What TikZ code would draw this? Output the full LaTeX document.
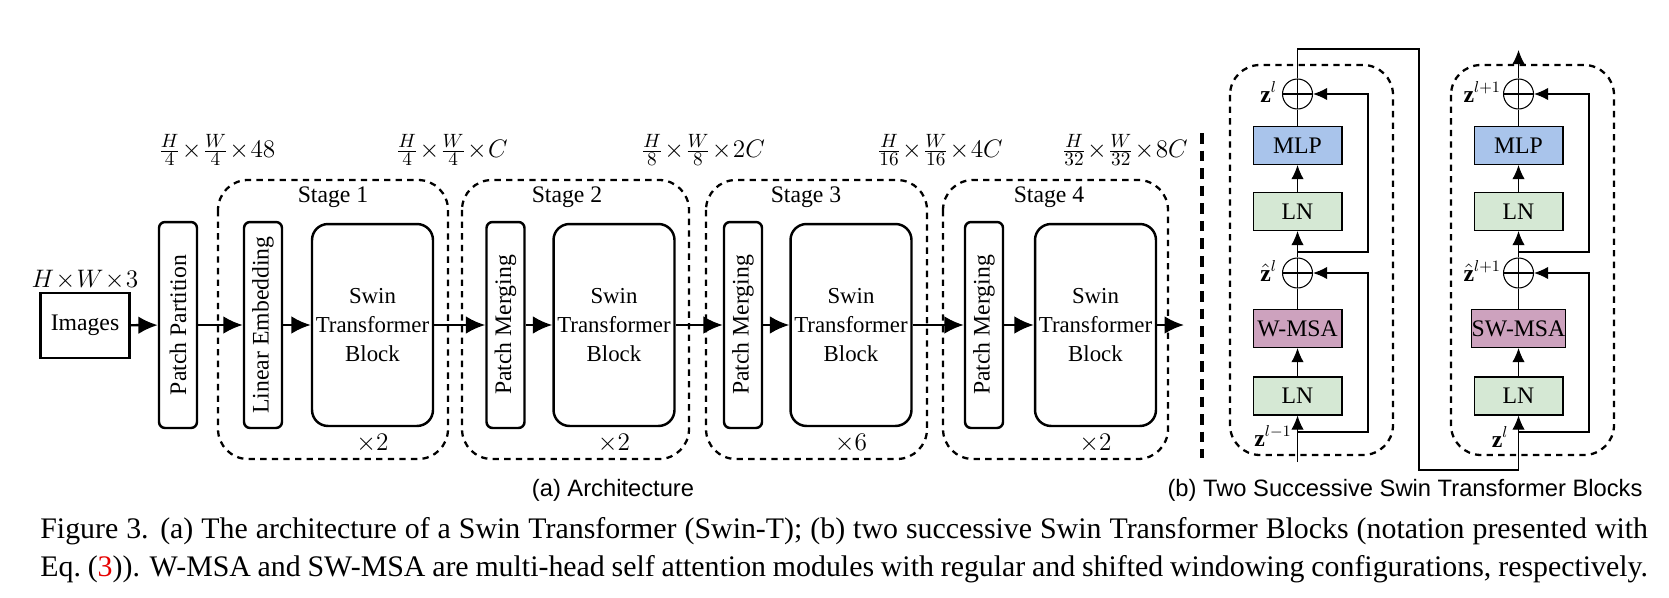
\documentclass[tikz,border=0pt]{standalone}
\usepackage{fontspec}
\setmainfont{Liberation Serif}
\newfontfamily\sansf{Liberation Sans}
\usetikzlibrary{arrows.meta,calc}
\definecolor{mlpblue}{RGB}{169,196,235}
\definecolor{lngreen}{RGB}{213,232,212}
\definecolor{msapink}{RGB}{205,162,190}
\definecolor{refred}{RGB}{230,0,0}
\begin{document}
\begin{tikzpicture}[x=0.02cm,y=-0.02cm,
  txt/.style={font=\fontsize{13.5}{16.5}\selectfont},
  thk/.style={line width=1.4pt},
  blk/.style={draw,thk,txt,align=center,inner sep=0pt},
  img/.style={blk,minimum width=1.78cm,minimum height=1.3cm},
  bar/.style={blk,rounded corners=0.12cm,minimum width=0.76cm,minimum height=4.12cm},
  swin/.style={blk,rounded corners=0.32cm,minimum width=2.42cm,minimum height=4.04cm,
    font=\fontsize{13}{16.5}\selectfont},
  stage/.style={draw,line width=1.3pt,dash pattern=on 3.6pt off 3pt,rounded corners=0.6cm},
  arr/.style={thk,-{Latex[length=11pt,width=10pt]}},
  sbox/.style={draw,line width=0.6pt,txt,minimum width=1.78cm,minimum height=0.76cm,inner sep=0pt},
  addop/.style={draw,line width=0.6pt,circle,minimum size=0.6cm,inner sep=0pt,
    path picture={\draw[line width=0.6pt] (path picture bounding box.north) -- (path picture bounding box.south)
      (path picture bounding box.west) -- (path picture bounding box.east);}},
  ln/.style={line width=0.6pt},
  sarr/.style={line width=0.6pt,-{Latex[length=8pt,width=7pt]}},
  lab/.style={txt,inner sep=1pt},
  dim/.style={font=\fontsize{15}{17}\selectfont,inner sep=1pt}]
\useasboundingbox (0,0) rectangle (1669,598);

% (a) architecture
\draw[stage] (218,180) rectangle (448,459);
\draw[stage] (462,180) rectangle (689,459);
\draw[stage] (706,180) rectangle (927,459);
\draw[stage] (943,180) rectangle (1168,459);
\node[lab] (st1) at (333,197) {Stage 1};
\node[lab] (st2) at (567,197) {Stage 2};
\node[lab] (st3) at (806,197) {Stage 3};
\node[lab] (st4) at (1049,197) {Stage 4};

\node[img] (im) at (85,325.5) {Images};
\node[dim,anchor=south] (imd) at (85,292) {$H\!\times\! W\!\times\! 3$};
\node[bar] (pp) at (178,325) {\rotatebox{90}{Patch Partition}};
\node[bar] (le) at (263,325) {\rotatebox{90}{Linear Embedding}};
\node[swin] (sw1) at (372.5,325) {Swin\\Transformer\\Block};
\node[bar] (pm2) at (505.5,325) {\rotatebox{90}{Patch Merging}};
\node[swin] (sw2) at (614,325) {Swin\\Transformer\\Block};
\node[bar] (pm3) at (743,325) {\rotatebox{90}{Patch Merging}};
\node[swin] (sw3) at (851,325) {Swin\\Transformer\\Block};
\node[bar] (pm4) at (984,325) {\rotatebox{90}{Patch Merging}};
\node[swin] (sw4) at (1095.5,325) {Swin\\Transformer\\Block};
\coordinate (out) at (1184,325);

\node[lab] (x1) at (372.5,443) {$\times 2$};
\node[lab] (x2) at (614,443) {$\times 2$};
\node[lab] (x3) at (851,443) {$\times 6$};
\node[lab] (x4) at (1095.5,443) {$\times 2$};

\node[dim] (d1) at (217,150) {$\frac{H}{4}\!\times\!\frac{W}{4}\!\times\!48$};
\node[dim] (d2) at (452,150) {$\frac{H}{4}\!\times\!\frac{W}{4}\!\times\! C$};
\node[dim] (d3) at (703,150) {$\frac{H}{8}\!\times\!\frac{W}{8}\!\times\! 2C$};
\node[dim] (d4) at (940,150) {$\frac{H}{16}\!\times\!\frac{W}{16}\!\times\! 4C$};
\node[dim] (d5) at (1125,150) {$\frac{H}{32}\!\times\!\frac{W}{32}\!\times\! 8C$};

\draw[arr] (im) -- (pp);
\draw[arr] (pp) -- (le);
\draw[arr] (le) -- (sw1);
\draw[arr] (sw1) -- (pm2);
\draw[arr] (pm2) -- (sw2);
\draw[arr] (sw2) -- (pm3);
\draw[arr] (pm3) -- (sw3);
\draw[arr] (sw3) -- (pm4);
\draw[arr] (pm4) -- (sw4);
\draw[arr] (sw4) -- (out);

% separator
\draw[line width=1.8pt,dash pattern=on 6pt off 4pt] (1202,133) -- (1202,458);

% (b) two blocks
\draw[stage] (1230,65) rectangle (1393,455);
\draw[stage] (1451,65) rectangle (1614,455);

\node[addop] (a2) at (1297.5,94) {};
\node[sbox,fill=mlpblue] (mlp) at (1297.5,145.5) {MLP};
\node[sbox,fill=lngreen] (ln2) at (1297.5,211.5) {LN};
\node[addop] (a1) at (1297.5,273) {};
\node[sbox,fill=msapink] (msa) at (1297.5,328.5) {W-MSA};
\node[sbox,fill=lngreen] (ln1) at (1297.5,396) {LN};
\node[lab,anchor=east] (zl) at (1279,92) {$\mathbf{z}^{l}$};
\node[lab,anchor=east] (zh) at (1279,271) {$\hat{\mathbf{z}}^{l}$};
\node[lab] (zin) at (1273,436) {$\mathbf{z}^{l-1}$};

\node[addop] (b2) at (1518.5,94) {};
\node[sbox,fill=mlpblue] (mlpb) at (1518.5,145.5) {MLP};
\node[sbox,fill=lngreen] (ln2b) at (1518.5,211.5) {LN};
\node[addop] (b1) at (1518.5,273) {};
\node[sbox,fill=msapink] (msab) at (1518.5,328.5) {SW-MSA};
\node[sbox,fill=lngreen] (ln1b) at (1518.5,396) {LN};
\node[lab,anchor=east] (zl2) at (1503,92) {$\mathbf{z}^{l+1}$};
\node[lab,anchor=east] (zh2) at (1503,271) {$\hat{\mathbf{z}}^{l+1}$};
\node[lab] (zinb) at (1500,437) {$\mathbf{z}^{l}$};

\coordinate (in1) at (1297.5,462);
\coordinate (s1) at (1297.5,432);
\coordinate (s2) at (1297.5,252);
\coordinate (t1) at (1297.5,49);
\coordinate (t2) at (1419,49);
\coordinate (t3) at (1419,470);
\coordinate (t4) at (1518.5,470);
\coordinate (u1) at (1518.5,432);
\coordinate (u2) at (1518.5,252);
\coordinate (outb) at (1518.5,50);

\draw[sarr] (in1) -- (ln1);
\draw[sarr] (ln1) -- (msa);
\draw[ln] (msa) -- (a1);
\draw[sarr] (a1) -- (ln2);
\draw[sarr] (ln2) -- (mlp);
\draw[ln] (mlp) -- (a2);
\draw[sarr] (s1) -- ++(70.5,0) |- (a1.east);
\draw[sarr] (s2) -- ++(70.5,0) |- (a2.east);
\draw[ln] (a2) -- (t1) -- (t2) -- (t3) -- (t4);
\draw[sarr] (t4) -- (ln1b);
\draw[sarr] (ln1b) -- (msab);
\draw[ln] (msab) -- (b1);
\draw[sarr] (b1) -- (ln2b);
\draw[sarr] (ln2b) -- (mlpb);
\draw[ln] (mlpb) -- (b2);
\draw[sarr] (u1) -- ++(70.5,0) |- (b1.east);
\draw[sarr] (u2) -- ++(70.5,0) |- (b2.east);
\draw[sarr] (b2) -- (outb);

% captions
\node[font=\sansf\fontsize{13.5}{16}\selectfont] (ca) at (613,490) {(a) Architecture};
\node[font=\sansf\fontsize{13.5}{16}\selectfont] (cb) at (1405,490) {(b) Two Successive Swin Transformer Blocks};
\node[anchor=north west,inner sep=0pt,text width=32.16cm,align=justify,
  font=\fontsize{17}{21.6}\selectfont] (cap) at (40,517)
  {Figure 3. (a) The architecture of a Swin Transformer (Swin-T); (b) two successive Swin Transformer Blocks (notation presented with Eq.~(\textcolor{refred}{3})). W-MSA and SW-MSA are multi-head self attention modules with regular and shifted windowing configurations, respectively.};
\end{tikzpicture}
\end{document}
